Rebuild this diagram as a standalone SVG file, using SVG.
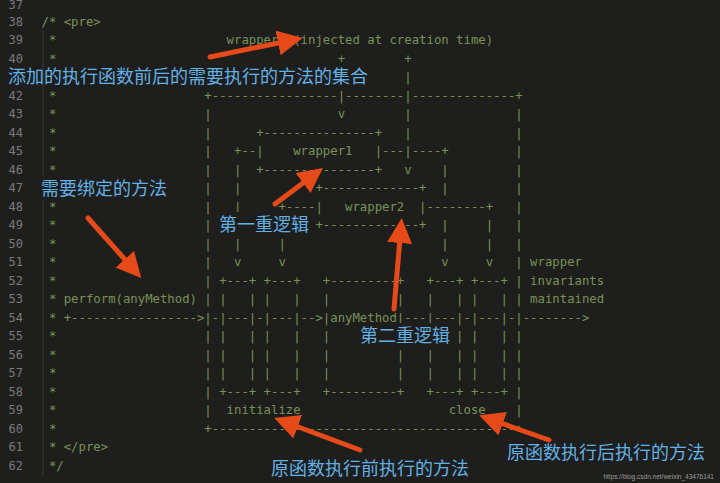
<svg xmlns="http://www.w3.org/2000/svg" width="720" height="483" viewBox="0 0 720 483">
<defs>
<style>
.ln{font-family:"DejaVu Sans Mono",monospace;font-size:12px;fill:#7a7a7a;text-anchor:end}
.c{font-family:"DejaVu Sans Mono",monospace;font-size:12.3px;fill:#7a9158;white-space:pre}
.a{font-family:"Noto Sans CJK SC",sans-serif;font-size:18px;fill:#62b0e6}
.bg{fill:#1e1f1c}
.arr{stroke:#e64a19;stroke-width:5;fill:none;stroke-linecap:round}
</style>
<marker id="h" viewBox="0 0 10 10" refX="2" refY="5" markerWidth="5" markerHeight="5" orient="auto" markerUnits="strokeWidth">
<path d="M0,0 L10,5 L0,10 Z" fill="#e64a19"/>
</marker>
</defs>
<rect width="720" height="483" fill="#1e1f1c"/>
<line x1="43" y1="30" x2="43" y2="475" stroke="#3a3a3a" stroke-width="1"/>
<g id="linenumbers">
<text class="ln" x="23" y="9">37</text><text class="ln" x="23" y="25.5">38</text><text class="ln" x="23" y="44">39</text><text class="ln" x="23" y="62.5">40</text><text class="ln" x="23" y="99.5">42</text><text class="ln" x="23" y="118">43</text><text class="ln" x="23" y="136.5">44</text><text class="ln" x="23" y="155">45</text><text class="ln" x="23" y="173.5">46</text><text class="ln" x="23" y="192">47</text><text class="ln" x="23" y="210.5">48</text><text class="ln" x="23" y="229">49</text><text class="ln" x="23" y="247.5">50</text><text class="ln" x="23" y="266">51</text><text class="ln" x="23" y="284.5">52</text><text class="ln" x="23" y="303">53</text><text class="ln" x="23" y="321.5">54</text><text class="ln" x="23" y="340">55</text><text class="ln" x="23" y="358.5">56</text><text class="ln" x="23" y="377">57</text><text class="ln" x="23" y="395.5">58</text><text class="ln" x="23" y="414">59</text><text class="ln" x="23" y="432.5">60</text><text class="ln" x="23" y="451">61</text><text class="ln" x="23" y="469.5">62</text>
</g>
<g id="code" xml:space="preserve">
<text class="c" x="41.5" y="25.5">/* &lt;pre&gt;</text>
<text class="c" x="41.5" y="44"> *                       wrappers (injected at creation time)</text>
<text class="c" x="41.5" y="62.5"> *                                      +        +</text>
<text class="c" x="41.5" y="81">                                                 |</text>
<text class="c" x="41.5" y="99.5"> *                    +-----------------|--------|--------------+</text>
<text class="c" x="41.5" y="118"> *                    |                 v        |              |</text>
<text class="c" x="41.5" y="136.5"> *                    |      +---------------+   |              |</text>
<text class="c" x="41.5" y="155"> *                    |   +--|    wrapper1   |---|----+         |</text>
<text class="c" x="41.5" y="173.5"> *                    |   |  +---------------+   v    |         |</text>
<text class="c" x="41.5" y="192"> *                    |   |          +-------------+  |         |</text>
<text class="c" x="41.5" y="210.5"> *                    |   |     +----|   wrapper2  |--------+   |</text>
<text class="c" x="41.5" y="229"> *                    |   |     |    +-------------+  |     |   |</text>
<text class="c" x="41.5" y="247.5"> *                    |   |     |                     |     |   |</text>
<text class="c" x="41.5" y="266"> *                    |   v     v                     v     v   | wrapper</text>
<text class="c" x="41.5" y="284.5"> *                    | +---+ +---+   +---------+   +---+ +---+ | invariants</text>
<text class="c" x="41.5" y="303"> * perform(anyMethod) | |   | |   |   |         |   |   | |   | | maintained</text>
<text class="c" x="41.5" y="321.5"> * +-----------------&gt;|-|---|-|---|--&gt;|anyMethod|---|---|-|---|-|--------&gt;</text>
<text class="c" x="41.5" y="340"> *                    | |   | |   |   |         |   |   | |   | |</text>
<text class="c" x="41.5" y="358.5"> *                    | |   | |   |   |         |   |   | |   | |</text>
<text class="c" x="41.5" y="377"> *                    | |   | |   |   |         |   |   | |   | |</text>
<text class="c" x="41.5" y="395.5"> *                    | +---+ +---+   +---------+   +---+ +---+ |</text>
<text class="c" x="41.5" y="414"> *                    |  initialize                    close    |</text>
<text class="c" x="41.5" y="432.5"> *                    +-----------------------------------------+</text>
<text class="c" x="41.5" y="451"> * &lt;/pre&gt;</text>
<text class="c" x="41.5" y="469.5"> */</text>
</g>
<g id="annotations">
<text class="a" x="8" y="83">添加的执行函数前后的需要执行的方法的集合</text>
<rect class="bg" x="39" y="176" width="134" height="24"/>
<text class="a" x="41" y="195">需要绑定的方法</text>
<rect class="bg" x="217" y="212" width="96" height="24"/>
<text class="a" x="219" y="231">第一重逻辑</text>
<rect class="bg" x="358" y="323" width="96" height="24"/>
<text class="a" x="360" y="342">第二重逻辑</text>
<rect class="bg" x="269" y="456" width="208" height="24"/>
<text class="a" x="271" y="475">原函数执行前执行的方法</text>
<rect class="bg" x="505" y="440" width="208" height="24"/>
<text class="a" x="507" y="459">原函数执行后执行的方法</text>
<text x="714" y="479" font-family="Liberation Sans, sans-serif" font-size="6.5" fill="#9a9a9a" text-anchor="end">https://blog.csdn.net/weixin_43476141</text>
</g>
<g id="connectors">
<line class="arr" x1="210" y1="57" x2="283" y2="42" marker-end="url(#h)"/>
<line class="arr" x1="275" y1="204" x2="307" y2="180" marker-end="url(#h)"/>
<line class="arr" x1="88" y1="218" x2="128" y2="263" marker-end="url(#h)"/>
<line class="arr" x1="394" y1="309" x2="400" y2="238" marker-end="url(#h)"/>
<line class="arr" x1="360" y1="450" x2="293" y2="425" marker-end="url(#h)"/>
<line class="arr" x1="549" y1="440" x2="498" y2="422" marker-end="url(#h)"/>
</g>
</svg>
